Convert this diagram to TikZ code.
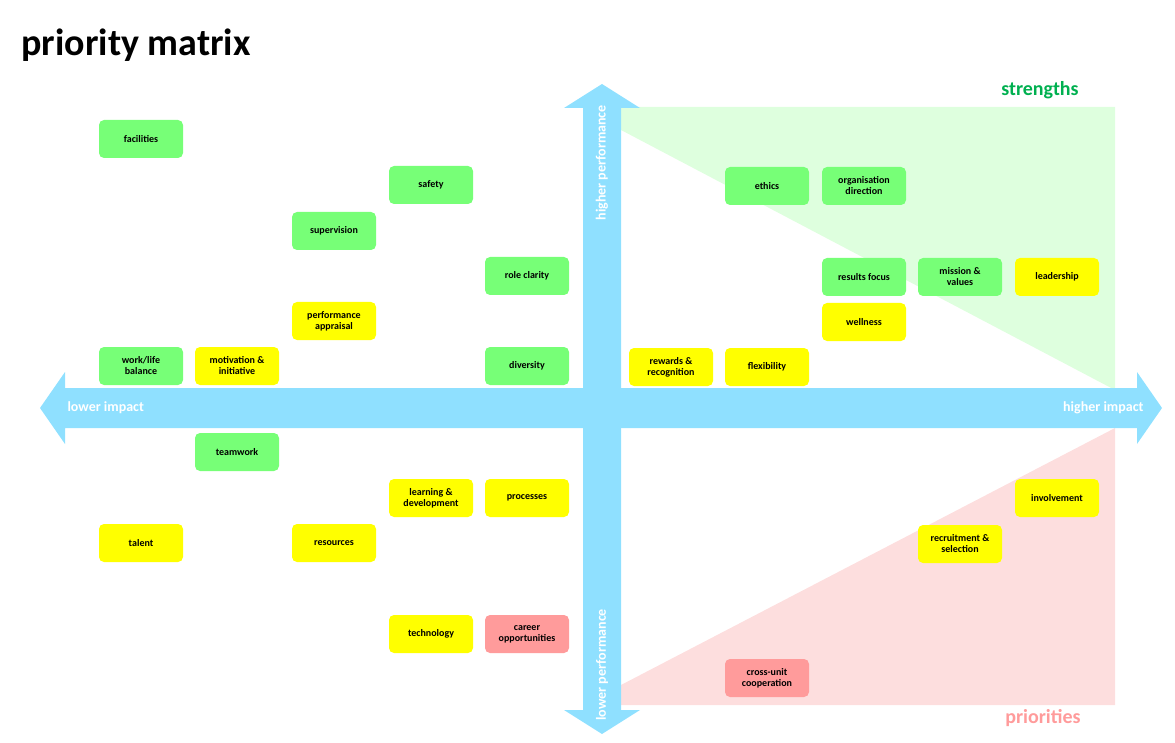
\documentclass[tikz,border=0pt]{standalone}
\usepackage{fontspec}
\setmainfont{Carlito}
\begin{document}
\begin{tikzpicture}[x=1pt,y=-1pt,
 box/.style={rounded corners=5pt,minimum width=84pt,minimum height=38pt,align=center,font=\bfseries\fontsize{10}{11}\selectfont,inner sep=1pt},
 gb/.style={box,fill=grn}, yb/.style={box,fill=ylw}, pb/.style={box,fill=pnk}]
\definecolor{grn}{HTML}{77FF77}\definecolor{ylw}{HTML}{FFFF00}\definecolor{pnk}{HTML}{FF9B9B}
\definecolor{lg}{HTML}{DEFFDE}\definecolor{lr}{HTML}{FDDEDE}\definecolor{arr}{HTML}{8FE0FF}
\useasboundingbox (0,0) rectangle (1175,743);
\fill[lg] (621,107) -- (1115,107) -- (1115,390) -- (621,130) -- cycle;
\fill[lr] (621,685) -- (1115,428) -- (1115,705) -- (621,705) -- cycle;
\fill[arr] (40,408) -- (65,372) -- (65,388) -- (1137,388) -- (1137,372) -- (1162,408) -- (1137,444) -- (1137,428) -- (65,428) -- (65,444) -- cycle;
\fill[arr] (602,84) -- (640,108) -- (621,108) -- (621,710) -- (640,710) -- (602,734) -- (564,710) -- (583,710) -- (583,108) -- (564,108) -- cycle;
\node[anchor=west,text=white,font=\bfseries\fontsize{14}{16}\selectfont] (li) at (64,408) {lower impact};
\node[anchor=east,text=white,font=\bfseries\fontsize{14}{16}\selectfont] (hi) at (1147,408) {higher impact};
\node[rotate=90,anchor=west,text=white,font=\bfseries\fontsize{14}{16}\selectfont] (hp) at (602,224) {higher performance};
\node[rotate=90,anchor=west,text=white,font=\bfseries\fontsize{14}{16}\selectfont] (lp) at (602,724) {lower performance};
\node[anchor=west,font=\bfseries\fontsize{38}{44}\selectfont] (t) at (18,45) {priority matrix};
\node[text={rgb,255:red,0;green,176;blue,80},font=\bfseries\fontsize{20}{24}\selectfont] (s) at (1040,90) {strengths};
\node[text=pnk,font=\bfseries\fontsize{20}{24}\selectfont] (p) at (1043,718) {priorities};
\node[gb] (a1) at (141,139) {facilities};
\node[gb] (a2) at (431,185) {safety};
\node[gb] (a3) at (334,231) {supervision};
\node[gb] (a4) at (527,276) {role clarity};
\node[yb] (a5) at (334,321) {performance\\appraisal};
\node[gb] (a6) at (141,366) {work/life\\balance};
\node[yb] (a7) at (237,366) {motivation \&\\initiative};
\node[gb] (a8) at (527,366) {diversity};
\node[yb] (a9) at (671,367) {rewards \&\\recognition};
\node[yb] (a10) at (767,367) {flexibility};
\node[gb] (a11) at (767,186) {ethics};
\node[gb] (a12) at (864,186) {organisation\\direction};
\node[gb] (a13) at (864,277) {results focus};
\node[gb] (a14) at (960,277) {mission \&\\values};
\node[yb] (a15) at (1057,277) {leadership};
\node[yb] (a16) at (864,322) {wellness};
\node[gb] (a17) at (237,452) {teamwork};
\node[yb] (a18) at (431,498) {learning \&\\development};
\node[yb] (a19) at (527,498) {processes};
\node[yb] (a20) at (141,543) {talent};
\node[yb] (a21) at (334,543) {resources};
\node[yb] (a22) at (1057,498) {involvement};
\node[yb] (a23) at (960,544) {recruitment \&\\selection};
\node[yb] (a24) at (431,634) {technology};
\node[pb] (a25) at (527,634) {career\\opportunities};
\node[pb] (a26) at (767,678) {cross-unit\\cooperation};
\end{tikzpicture}
\end{document}
